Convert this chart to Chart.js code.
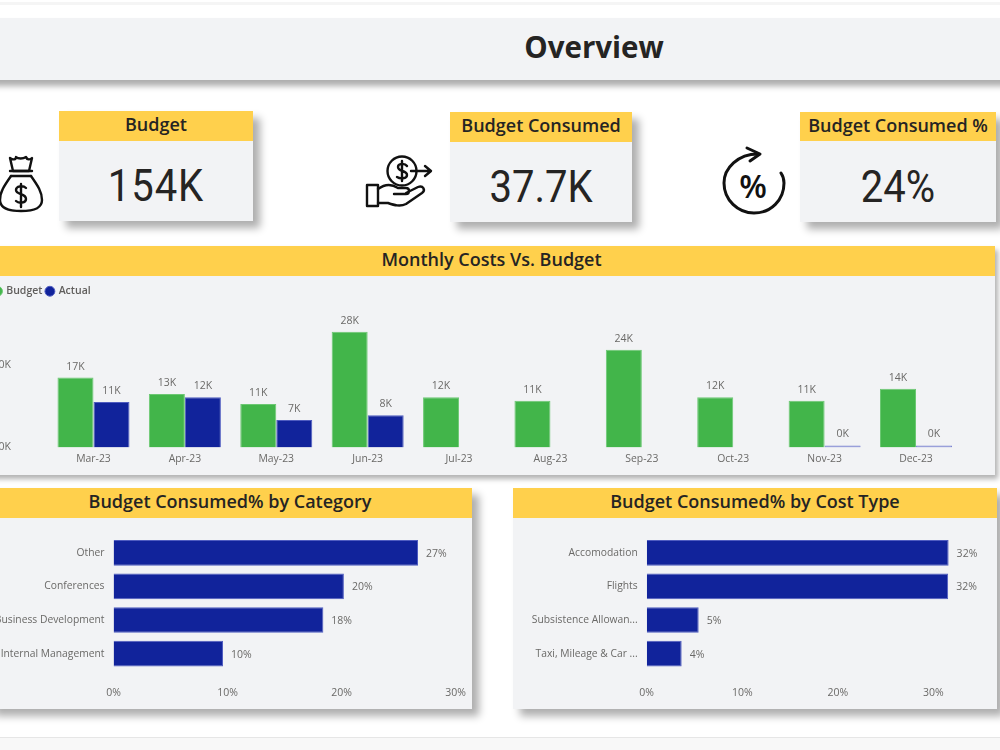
<!DOCTYPE html>
<html>
<head>
<meta charset="utf-8">
<title>Overview</title>
<script src="https://cdn.jsdelivr.net/npm/chart.js@4/dist/chart.umd.js"></script>
<style>
html, body { margin: 0; padding: 0; background: #fff; }
#page { position: relative; width: 1000px; height: 750px; overflow: hidden; background: #fff; font-family: "Open Sans", sans-serif; color: #252423; }
.panel { position: absolute; background: #f2f3f5; box-shadow: 7px 7px 8px rgba(0,0,0,.32); }
.head { position: absolute; left: 0; right: 0; top: 0; background: #ffd04c; text-align: center; font-weight: 600; }
.kpi-value { position: absolute; left: 0; right: 0; text-align: center; font-family: Roboto, sans-serif; font-weight: 400; font-size: 44px; line-height: 50px; color: #252423; transform: scaleX(.91); }
canvas { position: absolute; }
svg { position: absolute; fill: none; stroke: #111; stroke-width: 2.4; stroke-linecap: round; stroke-linejoin: round; }
</style>
</head>
<body>
<div id="page">
  <div style="position:absolute;left:0;right:0;top:2px;height:3px;background:#f5f5f5"></div>
  <div style="position:absolute;left:0;right:0;top:737px;height:13px;background:#f8f8f8;border-top:1px solid #e6e6e6"></div>

  <div class="panel" style="left:-12px;top:18px;width:1024px;height:62px;box-shadow:0 6px 6px rgba(0,0,0,.32);text-align:center">
    <div style="position:absolute;left:12px;width:1188px;top:10px;font-size:29.5px;line-height:38px;font-weight:700">Overview</div>
  </div>

  <svg style="left:-4px;top:152px" width="50" height="64" viewBox="0 0 50 64">
    <path d="M14 6 c3 2 6 2 6 -1 c2 2 7 2 10 0 c1 3 4 3 6 1 l-3 13 h-16 z"/>
    <path d="M14 19 h22"/>
    <path d="M15 24 h20"/>
    <path d="M15 24 C8 34 4 40 4 48 C4 56 11 59 25 59 C39 59 46 56 46 48 C46 40 42 34 35 24"/>
    <path d="M30 36 C27 33 20 34 20 38 C20 43 30 41 30 47 C30 51 23 52 20 49 M25 32 v23"/>
  </svg>
  <svg style="left:364px;top:153px" width="72" height="58" viewBox="0 0 72 58">
    <circle cx="38" cy="18" r="14.5"/>
    <path d="M43 13 C41 10 34 10 34 14 C34 19 43 17 43 22 C43 26 36 26 33 24 M38 8 v20"/>
    <path d="M47 18 h19 M61 13 l6 5 l-6 5"/>
    <path d="M3 32 h11 v21 h-11 z"/>
    <path d="M14 36 C22 30 28 31 34 35 h8 c4 0 4 6 0 6 h-12 M42 40 l12 -6 c5 -2 8 3 4 6 l-16 11 c-6 3 -12 1 -18 -1 h-10"/>
  </svg>
  <svg style="left:720px;top:146px" width="68" height="70" viewBox="0 0 68 70">
    <path d="M38 8 C18 8 4 22 4 37 C4 54 18 67 34 67 C51 67 64 54 64 37 C64 33 63 30 61 27" stroke-width="3"/>
    <path d="M27 2 L40 8 L30 15" stroke-width="3"/>
    <text x="33" y="52" text-anchor="middle" style="font:600 32px 'Open Sans',sans-serif;fill:#111;stroke:none">%</text>
  </svg>

  <div class="panel" style="left:59px;top:111px;width:194px;height:110px">
    <div class="head" style="height:29.5px;font-size:18px;line-height:26px">Budget</div>
    <div class="kpi-value" style="top:50px;letter-spacing:1px">154K</div>
  </div>
  <div class="panel" style="left:450px;top:112px;width:182px;height:110px">
    <div class="head" style="height:30px;font-size:18px;line-height:26px">Budget Consumed</div>
    <div class="kpi-value" style="top:50px">37.7K</div>
  </div>
  <div class="panel" style="left:800px;top:112px;width:196px;height:110px">
    <div class="head" style="height:29px;font-size:18px;line-height:26px">Budget Consumed %</div>
    <div class="kpi-value" style="top:50px">24%</div>
  </div>

  <div class="panel" style="left:-12px;top:246px;width:1007px;height:229px;box-shadow:3px 4px 5px rgba(0,0,0,.3)">
    <div class="head" style="height:30px;font-size:18px;line-height:27px">Monthly Costs Vs. Budget</div>
  </div>
  <canvas id="monthlyChart" width="1005" height="199" style="left:-10px;top:276px"></canvas>

  <div class="panel" style="left:-12px;top:488px;width:484px;height:221px">
    <div class="head" style="height:30px;font-size:18px;line-height:26px">Budget Consumed% by Category</div>
  </div>
  <canvas id="categoryChart" width="502" height="191" style="left:-20px;top:518px"></canvas>

  <div class="panel" style="left:513px;top:488px;width:484px;height:221px">
    <div class="head" style="height:30px;font-size:18px;line-height:26px">Budget Consumed% by Cost Type</div>
  </div>
  <canvas id="costTypeChart" width="484" height="191" style="left:513px;top:518px"></canvas>
</div>

<script>
const months = ['Mar-23', 'Apr-23', 'May-23', 'Jun-23', 'Jul-23', 'Aug-23', 'Sep-23', 'Oct-23', 'Nov-23', 'Dec-23'];
const budgetValues = [16900, 12900, 10500, 28000, 12100, 11300, 23600, 12100, 11300, 14200];
const actualValues = [11000, 12100, 6600, 7750, null, null, null, null, 0, 0];
const monthlyTicks = [0, 20000];

const categories = ['Other', 'Conferences', 'Business Development', 'Internal Management'];
const categoryValues = [26.7, 20.2, 18.4, 9.6];
const costTypes = ['Accomodation', 'Flights', 'Subsistence Allowan...', 'Taxi, Mileage & Car ...'];
const costTypeValues = [31.6, 31.55, 5.44, 3.66];

const GREEN = '#42b54a';
const BLUE = '#11239b';
const TEXT_GRAY = '#6a6967';
const LABEL_FONT = '10.5px "Open Sans", sans-serif';

// prints the value over each bar of the monthly chart
const monthlyLabels = {
    id: 'monthlyLabels',
    afterDatasetsDraw(chart) {
        const ctx = chart.ctx;
        ctx.save();
        ctx.font = LABEL_FONT;
        ctx.fillStyle = TEXT_GRAY;
        ctx.textAlign = 'center';
        ctx.textBaseline = 'middle';
        chart.data.datasets.forEach(function(ds, i) {
            chart.getDatasetMeta(i).data.forEach(function(bar, j) {
                if (ds.data[j] === null) return;
                ctx.fillText(Math.round(ds.data[j] / 1000) + 'K', bar.x, bar.y - 11);
            });
        });
        ctx.restore();
    }
};

// prints the percent right of each bar in the two lower charts
const percentLabels = {
    id: 'percentLabels',
    afterDatasetsDraw(chart) {
        const ctx = chart.ctx;
        const values = chart.data.datasets[0].data;
        ctx.save();
        ctx.font = LABEL_FONT;
        ctx.fillStyle = TEXT_GRAY;
        ctx.textAlign = 'left';
        ctx.textBaseline = 'middle';
        chart.getDatasetMeta(0).data.forEach(function(bar, j) {
            ctx.fillText(Math.round(values[j]) + '%', bar.x + 8, bar.y + 1);
        });
        ctx.restore();
    }
};

function hbarConfig(labels, values, maxValue, leftWidth, rightPad) {
    return {
        type: 'bar',
        data: {
            labels: labels,
            datasets: [{
                data: values,
                backgroundColor: BLUE,
                borderColor: '#4f5cc0',
                borderWidth: 1,
                categoryPercentage: 0.875,
                barPercentage: 0.875
            }]
        },
        options: {
            indexAxis: 'y',
            responsive: false,
            animation: false,
            layout: { padding: { top: 18, right: rightPad, left: 0, bottom: 0 } },
            plugins: { legend: { display: false }, tooltip: { enabled: false } },
            scales: {
                x: {
                    min: 0,
                    max: maxValue,
                    afterFit: function(scale) { scale.height = 38.6; },
                    grid: { display: false, drawTicks: false },
                    border: { display: false },
                    ticks: {
                        stepSize: 10,
                        includeBounds: false,
                        padding: 16,
                        maxRotation: 0,
                        color: TEXT_GRAY,
                        font: { family: '"Open Sans", sans-serif', size: 10.5 },
                        callback: function(v) { return v + '%'; }
                    }
                },
                y: {
                    afterFit: function(scale) { scale.width = leftWidth; },
                    grid: { display: false, drawTicks: false },
                    border: { display: false },
                    ticks: {
                        padding: 9,
                        autoSkip: false,
                        color: TEXT_GRAY,
                        font: { family: '"Open Sans", sans-serif', size: 10.3 }
                    }
                }
            }
        },
        plugins: [percentLabels]
    };
}

const configMonthly = {
    type: 'bar',
    data: {
        labels: months,
        datasets: [{
            label: 'Budget',
            data: budgetValues,
            backgroundColor: GREEN,
            borderColor: '#6cc873',
            borderWidth: 1,
            categoryPercentage: 0.788,
            barPercentage: 1
        }, {
            label: 'Actual',
            data: actualValues,
            backgroundColor: function(c) { return c.raw === 0 ? '#7f86d2' : BLUE; },
            borderColor: function(c) { return c.raw === 0 ? '#7f86d2' : '#4f5cc0'; },
            borderWidth: 1,
            minBarLength: 2,
            categoryPercentage: 0.788,
            barPercentage: 1
        }]
    },
    options: {
        responsive: false,
        animation: false,
        layout: { padding: { left: 0, right: 33.3, top: 6, bottom: 0 } },
        plugins: {
            tooltip: { enabled: false },
            legend: {
                position: 'top',
                align: 'start',
                labels: {
                    usePointStyle: true,
                    pointStyle: 'circle',
                    boxWidth: 7,
                    boxHeight: 7,
                    padding: 4,
                    color: '#605e5c',
                    font: { family: '"Open Sans", sans-serif', size: 10.5, weight: '600' }
                }
            }
        },
        scales: {
            x: {
                afterFit: function(scale) { scale.height = 27.6; },
                grid: { display: false, drawTicks: false },
                border: { display: false },
                ticks: {
                    padding: 5,
                    autoSkip: false,
                    maxRotation: 0,
                    color: TEXT_GRAY,
                    font: { family: '"Open Sans", sans-serif', size: 10.4 }
                }
            },
            y: {
                min: 0,
                max: 34080,
                afterFit: function(scale) { scale.width = 57.8; },
                afterBuildTicks: function(scale) {
                    scale.ticks = monthlyTicks.map(function(v) { return { value: v }; });
                },
                grid: { display: false, tickLength: 36.8 },
                border: { display: false },
                ticks: {
                    padding: 0,
                    color: TEXT_GRAY,
                    font: { family: '"Open Sans", sans-serif', size: 10.5 },
                    callback: function(v) { return (v / 1000) + 'K'; }
                }
            }
        }
    },
    plugins: [monthlyLabels]
};

var monthlyChart = new Chart(document.getElementById('monthlyChart'), configMonthly);
var categoryChart = new Chart(document.getElementById('categoryChart'), hbarConfig(categories, categoryValues, 30, 133.5, 0));
var costTypeChart = new Chart(document.getElementById('costTypeChart'), hbarConfig(costTypes, costTypeValues, 33, 133.7, 35));
</script>
</body>
</html>
